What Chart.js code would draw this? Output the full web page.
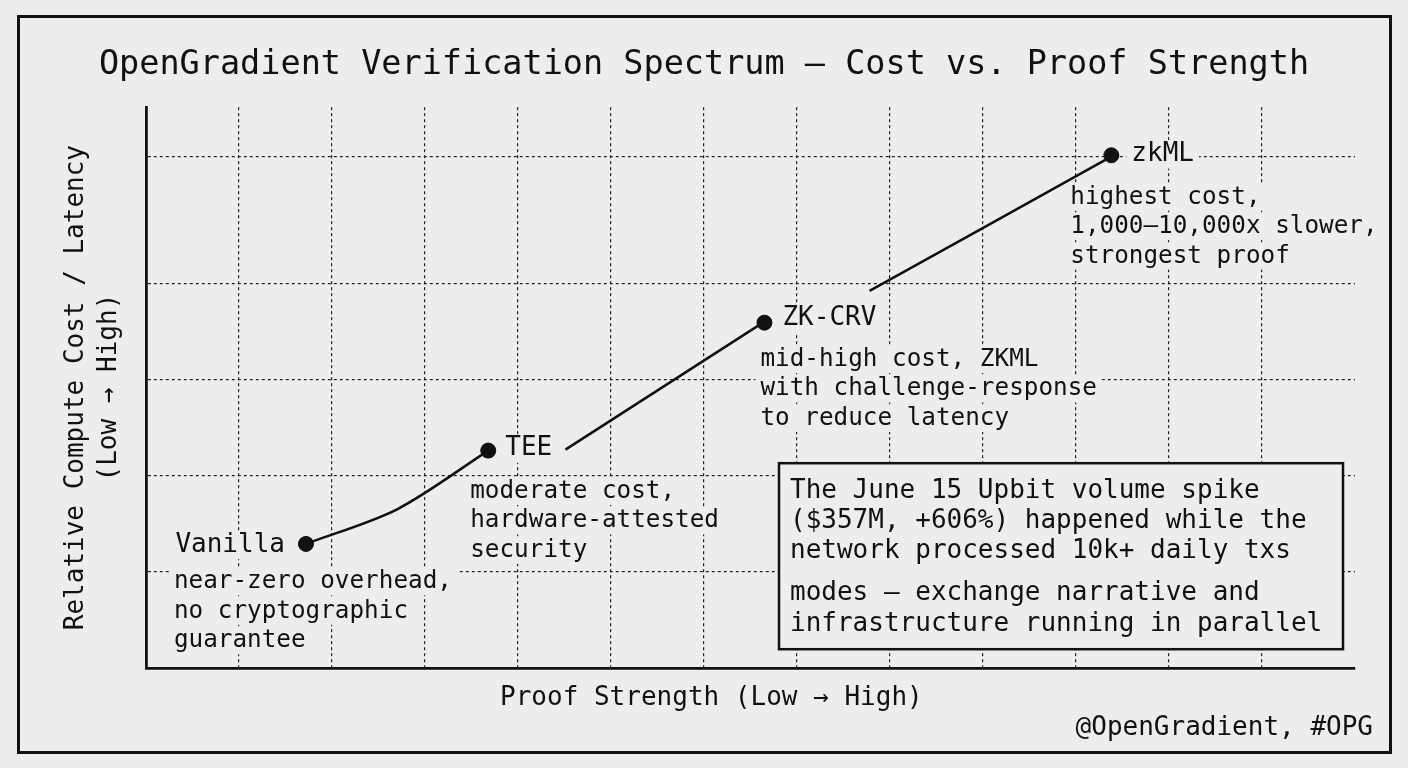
<!DOCTYPE html>
<html><head><meta charset="utf-8">
<script src="https://cdn.jsdelivr.net/npm/chart.js@4.4.0/dist/chart.umd.min.js"></script>
<style>html,body{margin:0;padding:0;background:#ededed;overflow:hidden}canvas{display:block}</style>
</head><body>
<canvas id="c" width="1408" height="768"></canvas>
<script>
// ---- data ----
const modes = ['Vanilla', 'TEE', 'ZK-CRV', 'zkML'];
const proofStrength = [1.72, 3.68, 6.65, 10.38];
const computeCost = [1.29, 2.26, 3.59, 5.33];
const descriptions = [
  ['near-zero overhead,', 'no cryptographic', 'guarantee'],
  ['moderate cost,', 'hardware-attested', 'security'],
  ['mid-high cost, ZKML', 'with challenge-response', 'to reduce latency'],
  ['highest cost,', '1,000\u201310,000x slower,', 'strongest proof']
];
// connector strokes between the modes (null = break)
const connectorX = [1.72, 2.70, 3.68, null, 4.51, 6.60, null, 7.78, 10.33];
const connectorY = [1.29, 1.65, 2.26, null, 2.27, 3.57, null, 3.92, 5.29];
const xTicks = [1, 2, 3, 4, 5, 6, 7, 8, 9, 10, 11, 12];
const yTicks = [1, 2, 3, 4, 5.32];
const noteLines = [
  'The June 15 Upbit volume spike',
  '($357M, +606%) happened while the',
  'network processed 10k+ daily txs',
  'modes \u2013 exchange narrative and',
  'infrastructure running in parallel'
];
const titleText = 'OpenGradient Verification Spectrum \u2014 Cost vs. Proof Strength';
const xTitle = 'Proof Strength (Low \u2192 High)';
const yTitle = ['Relative Compute Cost / Latency', '(Low \u2192 High)'];
const footerText = '@OpenGradient, #OPG';

// ---- styling / layout (not data) ----
const FONT = "'DejaVu Sans Mono', 'Liberation Mono', monospace";
const INK = '#111111';
const BG = '#ededed';
const labelLayout = [
  {align: 'right', dx: -21, dy: 1, descDx: -132, descDy: 38},
  {align: 'left', dx: 17, dy: -2, descDx: -18, descDy: 41},
  {align: 'left', dx: 18, dy: -4, descDx: -4, descDy: 37},
  {align: 'left', dx: 20, dy: -1, descDx: -41, descDy: 42}
];
const LINE_H = 29.5;

const connectorData = connectorX.map((x, i) => ({x: x, y: connectorY[i]}));
const pointData = proofStrength.map((x, i) => ({x: x, y: computeCost[i]}));

function textItems(chart) {
  const meta = chart.getDatasetMeta(1);
  const items = [];
  meta.data.forEach((pt, i) => {
    const L = labelLayout[i];
    items.push({text: modes[i], x: pt.x + L.dx, y: pt.y + L.dy, align: L.align, size: 26});
    descriptions[i].forEach((t, j) => {
      items.push({text: t, x: pt.x + L.descDx, y: pt.y + L.descDy + j * LINE_H, align: 'left', size: 24.3});
    });
  });
  return items;
}

const decor = {
  id: 'decor',
  beforeDraw(chart) {
    const ctx = chart.ctx;
    ctx.save();
    ctx.fillStyle = BG;
    ctx.fillRect(0, 0, chart.width, chart.height);
    ctx.strokeStyle = INK;
    ctx.lineWidth = 3;
    ctx.strokeRect(18.5, 16.5, 1372, 736);
    ctx.restore();
  },
  beforeDatasetsDraw(chart) {
    const ctx = chart.ctx;
    ctx.save();
    // clear grid behind texts
    ctx.fillStyle = BG;
    textItems(chart).forEach(it => {
      ctx.font = it.size + 'px ' + FONT;
      const w = ctx.measureText(it.text).width;
      const x0 = it.align === 'right' ? it.x - w : it.x;
      ctx.fillRect(x0 - 5, it.y - it.size * 0.55, w + 10, it.size * 1.1);
    });
    // note box
    const a = chart.chartArea;
    const bx = a.left + 633, by = a.top + 356, bw = 564, bh = 186;
    ctx.fillStyle = BG;
    ctx.fillRect(bx, by, bw, bh);
    ctx.strokeStyle = INK;
    ctx.lineWidth = 2.5;
    ctx.strokeRect(bx, by, bw, bh);
    ctx.restore();
  },
  afterDatasetsDraw(chart) {
    const ctx = chart.ctx;
    ctx.save();
    ctx.fillStyle = INK;
    ctx.textBaseline = 'middle';
    textItems(chart).forEach(it => {
      ctx.font = it.size + 'px ' + FONT;
      ctx.textAlign = it.align;
      ctx.fillText(it.text, it.x, it.y);
    });
    // note text
    const a = chart.chartArea;
    ctx.font = '26px ' + FONT;
    ctx.textAlign = 'left';
    const ys = [491, 521, 551, 593, 624];
    noteLines.forEach((t, i) => ctx.fillText(t, a.left + 644, ys[i]));
    // footer
    ctx.textAlign = 'right';
    ctx.fillText(footerText, 1373, 728);
    ctx.restore();
  }
};

Chart.defaults.font.family = FONT;
Chart.defaults.color = INK;

new Chart(document.getElementById('c'), {
  type: 'scatter',
  data: {
    datasets: [
      {
        label: 'connector',
        data: connectorData,
        showLine: true,
        spanGaps: false,
        tension: 0.3,
        borderColor: INK,
        borderWidth: 2.5,
        pointRadius: 0,
        pointHoverRadius: 0
      },
      {
        label: 'Verification modes',
        data: pointData,
        backgroundColor: INK,
        borderColor: INK,
        pointRadius: 7.5,
        pointHoverRadius: 7.5
      }
    ]
  },
  options: {
    responsive: false,
    animation: false,
    devicePixelRatio: 1,
    layout: {padding: {left: 53, right: 53, top: 0, bottom: 30}},
    plugins: {
      legend: {display: false},
      tooltip: {enabled: false},
      title: {
        display: true,
        text: titleText,
        color: INK,
        font: {family: FONT, size: 33.5, weight: 'normal', lineHeight: 1.2},
        padding: {top: 45, bottom: 22}
      }
    },
    scales: {
      x: {
        type: 'linear',
        min: 0, max: 13,
        afterBuildTicks(s) { s.ticks = xTicks.map(v => ({value: v})); },
        afterFit(s) { s.height = 70; },
        ticks: {display: false},
        grid: {display: true, color: '#222222', lineWidth: 1.2, drawTicks: false},
        border: {display: true, color: INK, width: 2.8, dash: [3, 3]},
        title: {
          display: true,
          text: xTitle + '     ',
          color: INK,
          font: {family: FONT, size: 26, lineHeight: 1.3},
          padding: {top: 0, bottom: 23}
        }
      },
      y: {
        type: 'linear',
        min: 0, max: 5.83,
        afterBuildTicks(s) { s.ticks = yTicks.map(v => ({value: v})); },
        afterFit(s) { s.width = 93; },
        ticks: {display: false},
        grid: {display: true, color: '#222222', lineWidth: 1.2, drawTicks: false},
        border: {display: true, color: INK, width: 2.8, dash: [3, 3]},
        title: {
          display: true,
          text: yTitle,
          color: INK,
          font: {family: FONT, size: 26, lineHeight: 1.3},
          padding: {top: 6, bottom: 0}
        }
      }
    }
  },
  plugins: [decor]
});
</script>
</body></html>
